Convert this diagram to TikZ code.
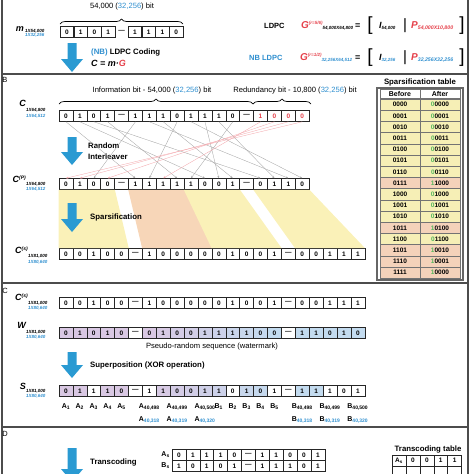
\documentclass[tikz,border=0pt]{standalone}
\usepackage{fontspec}
\setmainfont{Liberation Sans}
\usetikzlibrary{arrows.meta,decorations.pathreplacing}
\definecolor{nbblue}{HTML}{2F8FCF}
\definecolor{gred}{HTML}{E5404A}
\definecolor{arrowblue}{HTML}{2A9AD2}
\definecolor{yel}{HTML}{FAF1B8}
\definecolor{pch}{HTML}{F7D6B8}
\definecolor{tyel}{HTML}{F6EFB6}
\definecolor{tpch}{HTML}{F4D2BA}
\definecolor{grn}{HTML}{56B85C}
\definecolor{purp}{HTML}{D9C8E3}
\definecolor{lblue}{HTML}{C3DBEF}
\newcommand\redtx{\color{gred}}
\newcommand\dotcell{\raisebox{0.5pt}{---}}
\newcommand\bigdown[3]{\fill[arrowblue] ({#1-4.5},#2) -- ({#1+4.5},#2) -- ({#1+4.5},{#3-13}) -- ({#1+11},{#3-13}) -- (#1,#3) -- ({#1-11},{#3-13}) -- ({#1-4.5},{#3-13}) -- cycle;}
\newcommand\cellrow[4]{\foreach \v [count=\i from 0] in {#4} \node[cell] (#1\i) at ({#2+13.9*(\i+0.5)},#3) {\v};}
\newcommand\sbs[1]{\raisebox{-1.8pt}{\fontsize{4.5}{5}\selectfont #1}}
\newcommand\sbp[1]{\raisebox{-1.8pt}{\fontsize{5.2}{5}\selectfont #1}}
\newcommand\sps[1]{\raisebox{3.8pt}{\fontsize{4.5}{5}\selectfont #1}}
\begin{document}
\begin{tikzpicture}[x=1pt,y=-1pt,
 cell/.style={draw=black!85,line width=0.55pt,minimum width=13.9pt,minimum height=11pt,inner sep=0pt,font=\bfseries\fontsize{6.5}{7}\selectfont},
 frm/.style={draw=black!70,line width=1.2pt},
 ilv/.style={draw=black!35,line width=0.35pt,-{Stealth[length=2.5pt,width=2pt]}},
 ilvr/.style={ilv,draw=gred!45},
 lab/.style={inner sep=0pt,anchor=west,font=\bfseries\fontsize{7.8}{8}\selectfont},
 txt/.style={inner sep=0pt,font=\fontsize{7.6}{8}\selectfont},
 plab/.style={inner sep=0pt,font=\fontsize{7.5}{8}\selectfont},
 sub/.style={inner sep=0pt,anchor=west,font=\bfseries\itshape\fontsize{4.5}{5}\selectfont},
 var/.style={inner sep=0pt,anchor=east,font=\bfseries\itshape\fontsize{9}{9}\selectfont},
 symb/.style={inner sep=0pt,align=center,font=\bfseries\fontsize{7}{13}\selectfont},
 tcell/.style={draw=black!55,line width=0.5pt,minimum width=40pt,minimum height=11.2pt,inner sep=0pt,font=\bfseries\fontsize{6.5}{7}\selectfont},
 brc/.style={decorate,decoration={brace,amplitude=5pt},line width=0.7pt},
 fml/.style={anchor=base west,inner sep=0pt,font=\bfseries\fontsize{7.5}{8}\selectfont},
 big/.style={inner sep=0pt,font=\fontsize{19}{19}\selectfont}]
\useasboundingbox (0,0) rectangle (474,474);
\clip (0,0) rectangle (474,474);
% frame
\draw[frm] (2,-5) -- (2,480);
\draw[frm] (468,-5) -- (468,480);
\draw[frm] (2,74) -- (468,74);
\draw[frm] (2,283) -- (468,283);
\draw[frm] (2,427) -- (468,427);
\node[plab] (pB) at (5,80) {B};
\node[plab] (pC) at (5,291) {C};
\node[plab] (pD) at (5,434) {D};
% ---------- panel A
\node[txt] (mtop) at (122,7) {54,000 (\textcolor{nbblue}{32,256}) bit};
\draw[brc] (60,24) -- (183,24);
\foreach \v [count=\i from 0] in {0,1,0,1} \node[cell] (m\i) at ({60+13.75*(\i+0.5)},32) {\v};
\foreach \v [count=\i from 4] in {1,1,1,0} \node[cell] (m\i) at ({128+13.75*(\i-4+0.5)},32) {\v};
\node[inner sep=0pt,font=\bfseries\fontsize{6.5}{7}\selectfont] (mdots) at (121.5,32) {\dotcell};
\node[var] (mlab) at (24,29) {m};
\node[sub] (ms1) at (25,31) {1X54,000};
\node[sub,text=nbblue] (ms2) at (25,35.5) {1X32,256};
\bigdown{72}{43}{72}
\node[lab] (coding) at (91,52) {\textcolor{nbblue}{(NB)} LDPC Coding};
\node[lab,font=\bfseries\itshape\fontsize{9}{9}\selectfont] (ceq) at (91,63) {C = m·\textcolor{gred}{G}};
% formulas
\node[fml] (ldpc1) at (264,28) {LDPC};
\node[fml] (g1) at (301,28) {\fontsize{10}{10}\selectfont\itshape\textcolor{gred}{G\sps{(r=5/6)}}\sbs{54,000X64,800}};
\node[fml,font=\bfseries\fontsize{9}{9}\selectfont] (eq1) at (355,28) {=};
\node[big] (lb1) at (370,26) {[};
\node[fml] (i1) at (379,28) {\fontsize{9}{9}\selectfont\itshape I\sbs{54,000}};
\node[big,font=\fontsize{15}{15}\selectfont] (bar1) at (405,26) {|};
\node[fml] (p1) at (411,28) {\fontsize{10}{10}\selectfont\itshape\textcolor{gred}{P\sbp{54,000X10,800}}};
\node[big] (rb1) at (462,26) {]};
\node[fml,text=nbblue] (ldpc2) at (249,60) {NB LDPC};
\node[fml] (g2) at (300,60) {\fontsize{10}{10}\selectfont\itshape\textcolor{gred}{G\sps{(r=1/2)}}\textcolor{nbblue}{\sbs{32,256X64,512}}};
\node[fml,font=\bfseries\fontsize{9}{9}\selectfont] (eq2) at (355,60) {=};
\node[big] (lb2) at (370,58) {[};
\node[fml] (i2) at (379,60) {\fontsize{9}{9}\selectfont\itshape I\textcolor{nbblue}{\sbs{32,256}}};
\node[big,font=\fontsize{15}{15}\selectfont] (bar2) at (405,58) {|};
\node[fml] (p2) at (411,60) {\fontsize{10}{10}\selectfont\itshape\textcolor{gred}{P}\textcolor{nbblue}{\sbp{32,256X32,256}}};
\node[big] (rb2) at (462,58) {]};
% ---------- panel B
\node[txt] (infot) at (152,91) {Information bit - 54,000 (\textcolor{nbblue}{32,256}) bit};
\node[txt] (redt) at (295,91) {Redundancy bit - 10,800 (\textcolor{nbblue}{32,256}) bit};
\draw[brc] (59,104) -- (253,104);
\draw[brc] (253,104) -- (311,104);
\cellrow{ca}{59}{116}{0,1,0,1,\dotcell,1,1,1,0,1,1,1,0,\dotcell,{\redtx 1},{\redtx 0},{\redtx 0},{\redtx 0}}
\node[var] (clab) at (26,103) {C};
\node[sub] (cs1) at (26,110) {1X64,800};
\node[sub,text=nbblue] (cs2) at (26,116.5) {1X64,512};
\cellrow{cp}{59}{184}{0,1,0,0,\dotcell,1,1,1,1,1,0,0,1,\dotcell,0,1,1,0}
\node[var] (cplab) at (26,179) {C\raisebox{3pt}{\fontsize{5}{5}\selectfont(P)}};
\node[sub] (cps1) at (26,184) {1X64,800};
\node[sub,text=nbblue] (cps2) at (26,189.5) {1X64,512};
\bigdown{72}{137}{165}
\node[lab] (rand) at (88,146) {Random};
\node[lab] (intl) at (88,157) {Interleaver};
\cellrow{cs}{59}{254}{0,0,1,0,0,\dotcell,1,0,0,0,0,0,1,0,0,1,\dotcell,0,0,1,1,1}
\node[var] (cslab) at (28,250) {C\raisebox{3pt}{\fontsize{5}{5}\selectfont(s)}};
\node[sub] (css1) at (28,256) {1X81,000};
\node[sub,text=nbblue] (css2) at (28,262) {1X80,640};
% sparsification shading
\fill[yel] (cp0.south west) -- (cp3.south east) -- (cs4.north east) -- (cs0.north west) -- cycle;
\fill[pch] (cp5.south west) -- (cp8.south east) -- (cs10.north east) -- (cs6.north west) -- cycle;
\fill[yel] (cp9.south west) -- (cp12.south east) -- (cs15.north east) -- (cs11.north west) -- cycle;
\fill[yel] (cp14.south west) -- (cp17.south east) -- (cs21.north east) -- (cs17.north west) -- cycle;
\bigdown{72}{203}{232}
\node[lab] (spars) at (90,217) {Sparsification};
% interleaver lines
\foreach \s/\d in {0/5,1/10,2/14,3/8,5/2,6/16,7/12,8/6,9/17,10/11,11/15,12/9}
  \draw[ilv] (ca\s.south) -- (cp\d.north);
\foreach \s/\d in {14/7,15/3,16/1,17/0}
  \draw[ilvr] (ca\s.south) -- (cp\d.north);
% sparsification table
\node[inner sep=0pt,font=\bfseries\fontsize{7.8}{8}\selectfont] (sptitle) at (420,82) {Sparsification table};
\draw[black!60,line width=1.2pt] (377,88) rectangle (463,280);
\node[tcell,minimum height=9pt,font=\bfseries\fontsize{7}{7}\selectfont] (hb) at (400,94) {Before};
\node[tcell,minimum height=9pt,font=\bfseries\fontsize{7}{7}\selectfont] (ha) at (440,94) {After};
\foreach \b/\f/\r/\c [count=\k from 0] in {0000/0/0000/tyel,0001/0/0001/tyel,0010/0/0010/tyel,0011/0/0011/tyel,0100/0/0100/tyel,0101/0/0101/tyel,0110/0/0110/tyel,0111/1/1000/tpch,1000/0/1000/tyel,1001/0/1001/tyel,1010/0/1010/tyel,1011/1/0100/tpch,1100/0/1100/tyel,1101/1/0010/tpch,1110/1/0001/tpch,1111/1/0000/tpch}{
  \node[tcell,fill=\c] (tb\k) at (400,{104.6+11.2*\k}) {\b};
  \node[tcell,fill=\c] (ta\k) at (440,{104.6+11.2*\k}) {\textcolor{grn}{\f}\r};
}
% ---------- panel C
\cellrow{cc}{59}{303}{0,0,1,0,0,\dotcell,1,0,0,0,0,0,1,0,0,1,\dotcell,0,0,1,1,1}
\node[var] (cclab) at (28,297) {C\raisebox{3pt}{\fontsize{5}{5}\selectfont(s)}};
\node[sub] (ccs1) at (28,303) {1X81,000};
\node[sub,text=nbblue] (ccs2) at (28,308) {1X80,640};
\foreach \v [count=\i from 0] in {0,1,0,1,0,\dotcell,0,1,0,0,1,1,1,1,0,0,\dotcell,1,1,0,1,0}{
  \pgfmathtruncatemacro\pc{(\i<5) ? 100 : ((\i<16) ? 100-(\i-6)*11 : 0)}
  \ifnum\i=5 \def\fc{white}\else\ifnum\i=16 \def\fc{white}\else\edef\fc{purp!\pc!lblue}\fi\fi
  \node[cell,fill=\fc] (w\i) at ({59+13.9*(\i+0.5)},333) {\v};
}
\node[var] (wlab) at (26,325) {W};
\node[sub] (ws1) at (26,332) {1X81,000};
\node[sub,text=nbblue] (ws2) at (26,337) {1X80,640};
\node[txt] (pseudo) at (212,347) {Pseudo-random sequence (watermark)};
\bigdown{72}{352}{378}
\node[lab] (superp) at (90,365) {Superposition (XOR operation)};
\foreach \v/\m [count=\i from 0] in {0/1,1/1,1/0,1/1,0/1,\dotcell/0,1/0,1/1,0/1,0/1,1/1,1/1,0/0,1/1,0/1,1/0,\dotcell/0,1/1,1/1,1/0,0/0,1/0}{
  \pgfmathtruncatemacro\pc{(\i<5) ? 100 : ((\i<16) ? 100-(\i-6)*11 : 0)}
  \ifnum\m=1 \edef\fc{purp!\pc!lblue}\else\def\fc{white}\fi
  \node[cell,fill=\fc] (s\i) at ({59+13.9*(\i+0.5)},391) {\v};
}
\node[var] (slab) at (26,386) {S};
\node[sub] (ss1) at (26,391.5) {1X81,000};
\node[sub,text=nbblue] (ss2) at (26,396.5) {1X80,640};
\foreach \k in {1,...,5} \node[symb] (al\k) at ({59+13.9*(\k-0.5)},407) {A\textsubscript{\k}};
\foreach \n/\m/\c in {498/318/6,499/319/8,500/320/10}
  \node[symb,anchor=north] (alx\n) at ({59+13.9*(\c+0.5)},403) {A\textsubscript{40,\n}\\A\textsubscript{\textcolor{nbblue}{40,\m}}};
\foreach \k [count=\j from 11] in {1,...,5} \node[symb] (bl\k) at ({59+13.9*(\j+0.5)},407) {B\textsubscript{\k}};
\foreach \n/\m/\c in {498/318/17,499/319/19,500/320/21}
  \node[symb,anchor=north] (blx\n) at ({59+13.9*(\c+0.5)},403) {B\textsubscript{40,\n}\\B\textsubscript{\textcolor{nbblue}{40,\m}}};
% ---------- panel D
\bigdown{72}{448}{482}
\node[lab] (trans) at (90,462) {Transcoding};
\cellrow{da}{172}{455}{0,1,1,1,0,\dotcell,1,1,0,0,1}
\cellrow{db}{172}{466}{1,0,1,0,1,\dotcell,1,1,1,0,1}
\node[symb,anchor=east] (dal) at (170,455) {A\textsubscript{s}};
\node[symb,anchor=east] (dbl) at (170,466) {B\textsubscript{s}};
\node[inner sep=0pt,font=\bfseries\fontsize{7.8}{8}\selectfont] (trtitle) at (428,449) {Transcoding table};
\node[cell] (tal) at (399,460.5) {A\textsubscript{s}};
\cellrow{tar}{406}{460.5}{0,0,1,1}
\node[cell] (tbl) at (399,471.5) {};
\cellrow{tbr}{406}{471.5}{{},{},{},{}}
\end{tikzpicture}
\end{document}
